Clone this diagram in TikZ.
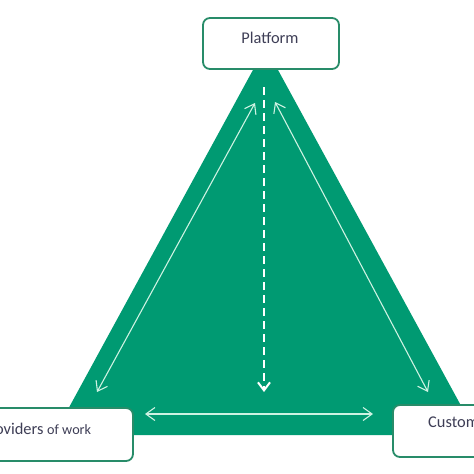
\documentclass[tikz,border=0pt]{standalone}
\usepackage{fontspec}
\setmainfont{Carlito}
\usetikzlibrary{arrows.meta}
\definecolor{tri}{RGB}{0,154,114}
\definecolor{boxline}{RGB}{40,140,105}
\definecolor{mint}{RGB}{205,242,226}
\definecolor{txt}{RGB}{62,62,86}
\tikzset{
  box/.style={draw=boxline, line width=1.8pt, fill=white, rounded corners=7pt, inner sep=0pt},
  lbl/.style={inner sep=0pt, text=txt, font=\fontsize{16.4pt}{19pt}\selectfont},
  link/.style={draw=mint, line width=1.1pt, {Straight Barb[length=9pt,width=13pt]}-{Straight Barb[length=9pt,width=13pt]}},
  dashlink/.style={draw=white, line width=2.4pt, dash pattern=on 8pt off 5pt, -{Straight Barb[length=8pt,width=12pt,line width=2pt]}}
}
\begin{document}
\begin{tikzpicture}[x=1pt,y=-1pt]
\useasboundingbox (0,0) rectangle (474,474);
\clip (0,0) rectangle (474,474);
% triangle
\fill[tri] (265.5,47) -- (477,435) -- (54,435) -- cycle;
% arrows
\coordinate (lt) at (255,103);
\coordinate (lb) at (97,392);
\coordinate (rt) at (275,102);
\coordinate (rb) at (428,392);
\coordinate (vt) at (264,87);
\coordinate (vb) at (264,392);
\coordinate (hl) at (145,414);
\coordinate (hr) at (373,414);
\draw[link] (lt) -- (lb);
\draw[link] (rt) -- (rb);
\draw[link] (hl) -- (hr);
\draw[dashlink] (vt) -- (vb);
% boxes
\node[box, minimum width=136pt, minimum height=51pt] (plat) at (271,43.5) {};
\node[box, minimum width=192pt, minimum height=53pt] (prov) at (37,434.5) {};
\node[box, minimum width=141pt, minimum height=52pt] (cust) at (463.5,431) {};
% texts
\node[lbl, anchor=base] (platt) at (270,43) {Platform};
\node[lbl, anchor=base west] (provt) at (-19,434) {Providers {\fontsize{14.2pt}{17pt}\selectfont of work}};
\node[lbl, anchor=base west] (custt) at (428,427.5) {Customers};
\end{tikzpicture}
\end{document}
